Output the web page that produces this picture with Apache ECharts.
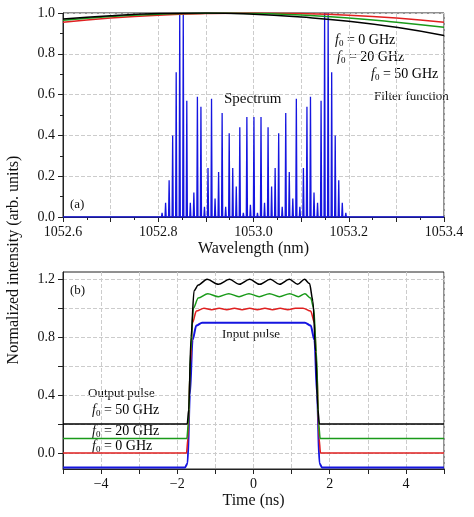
<!DOCTYPE html><html><head><meta charset="utf-8">
<script src="https://cdn.jsdelivr.net/npm/echarts@6/dist/echarts.min.js"></script>
<style>body{margin:0}#c{width:474px;height:517px}</style></head><body><div id="c"></div>
<script>
// Panel (a): spectrum comb line heights (start 1052.808 nm, step 0.00742 nm)
const combStart = 1052.808, combStep = 0.00742;
const combHeights = [0.02,0.07,0.18,0.40,0.71,1.0,1.0,0.57,0.07,0.12,0.59,0.54,0.05,0.24,0.58,0.09,0.22,0.51,0.05,0.41,0.24,0.15,0.44,0.02,0.49,0.06,0.49,0.02,0.49,0.07,0.44,0.15,0.24,0.41,0.05,0.51,0.22,0.09,0.58,0.05,0.24,0.54,0.59,0.12,0.07,0.57,1.0,1.0,0.71,0.40,0.18,0.07,0.02];
const filterX = [1052.6,1052.7,1052.8,1052.9,1053.0,1053.1,1053.2,1053.3,1053.4];
const filter50 = [0.97,0.987,0.997,1.0,0.994,0.98,0.96,0.93,0.89];
const filter20 = [0.965,0.983,0.994,0.999,0.998,0.99,0.976,0.955,0.93];
const filter0  = [0.955,0.975,0.989,0.997,1.0,0.997,0.989,0.975,0.955];
// Panel (b): pulses [time, value]
const inputPulse = [[-5,-0.1],[-1.8,-0.1],[-1.73,-0.07],[-1.67,0.4],[-1.6,0.78],[-1.5,0.88],[-1.35,0.9],[1.35,0.9],[1.5,0.88],[1.6,0.78],[1.67,0.4],[1.73,-0.07],[1.8,-0.1],[5,-0.1]];
const out0 = [[-5,0],[-1.76,0],[-1.72,0.1],[-1.66,0.6],[-1.6,0.9],[-1.5,0.98],[-1.3,1.0],[-1.1,0.99],[-0.9,1.0],[-0.7,0.99],[-0.5,1.0],[-0.3,0.99],[-0.1,1.0],[0.1,0.99],[0.3,1.0],[0.5,0.99],[0.7,1.0],[0.9,0.99],[1.1,1.0],[1.3,1.0],[1.5,0.98],[1.6,0.9],[1.66,0.6],[1.72,0.1],[1.76,0],[5,0]];
const out20 = [[-5,0.1],[-1.75,0.1],[-1.71,0.2],[-1.65,0.7],[-1.58,1.0],[-1.45,1.07],[-1.2,1.1],[-0.92,1.08],[-0.65,1.1],[-0.38,1.08],[-0.12,1.1],[0.15,1.08],[0.42,1.1],[0.68,1.08],[0.95,1.1],[1.18,1.08],[1.35,1.1],[1.5,1.07],[1.58,1.0],[1.65,0.7],[1.71,0.2],[1.75,0.1],[5,0.1]];
const out50 = [[-5,0.2],[-1.74,0.2],[-1.7,0.3],[-1.64,0.8],[-1.56,1.12],[-1.45,1.16],[-1.22,1.2],[-0.92,1.165],[-0.63,1.2],[-0.38,1.165],[-0.1,1.2],[0.16,1.165],[0.44,1.2],[0.68,1.165],[0.94,1.2],[1.16,1.165],[1.34,1.2],[1.47,1.17],[1.56,1.05],[1.63,0.7],[1.69,0.3],[1.73,0.2],[5,0.2]];

const comb = [[1052.6,0]];
combHeights.forEach((h,i)=>{const x=combStart+i*combStep;comb.push([x-0.0012,0],[x,h],[x+0.0012,0]);});
comb.push([1053.4,0]);
const zip = (xs,ys)=>xs.map((x,i)=>[x,ys[i]]);
const F = 'Liberation Serif, DejaVu Serif, serif';
const dash = {show:true,lineStyle:{type:'dashed',color:'#ccc'}};
const ax = {axisLine:{onZero:false,lineStyle:{color:'#222'}},axisTick:{lineStyle:{color:'#222'}},axisLabel:{color:'#111',fontFamily:F,fontSize:14}};
const rich = {i:{fontStyle:'italic',fontFamily:F,fontSize:14,fill:'#111'},s:{fontFamily:F,fontSize:9,padding:[6,0,0,0]},n:{fontFamily:F,fontSize:14}};
const fl = (x,y,t)=>({type:'text',x:x,y:y,style:{rich:rich,text:'{i|f}{s|0}{n| = '+t+'}'}});
const chart = echarts.init(document.getElementById('c'));
chart.setOption({
  animation:false,
  grid:[{left:63,top:13,width:381,height:204,show:true,borderColor:'#222',borderWidth:1},
        {left:63,top:272,width:381,height:197,show:true,borderColor:'#222',borderWidth:1}],
  xAxis:[{gridIndex:0,type:'value',min:1052.6,max:1053.4,interval:0.1,...ax,
          axisLabel:{...ax.axisLabel,formatter:v=>{const k=Math.round((v-1052.6)*10);return k%2===0?v.toFixed(1):'';}},
          minorTick:{show:true,splitNumber:2},splitLine:dash,
          name:'Wavelength (nm)',nameLocation:'middle',nameGap:24,nameTextStyle:{fontFamily:F,fontSize:16,color:'#111'}},
         {gridIndex:1,type:'value',min:-5,max:5,interval:1,...ax,
          axisLabel:{...ax.axisLabel,formatter:v=>v%2===0?(v<0?'\u2212'+(-v):''+v):''},
          splitLine:dash,
          name:'Time (ns)',nameLocation:'middle',nameGap:24,nameTextStyle:{fontFamily:F,fontSize:16,color:'#111'}}],
  yAxis:[{gridIndex:0,type:'value',min:0,max:1.0,interval:0.2,...ax,
          axisLabel:{...ax.axisLabel,formatter:v=>v.toFixed(1)},minorTick:{show:true,splitNumber:2},splitLine:dash},
         {gridIndex:1,type:'value',min:-0.11,max:1.25,...ax,
          axisLabel:{...ax.axisLabel,customValues:[0,0.4,0.8,1.2],formatter:v=>v.toFixed(1)},
          axisTick:{...ax.axisTick,customValues:[0,0.2,0.4,0.6,0.8,1.0,1.2]},splitLine:dash}],
  series:[
    {type:'line',xAxisIndex:0,yAxisIndex:0,data:comb,symbol:'none',lineStyle:{color:'#1515e0',width:1.3},z:2},
    {type:'line',xAxisIndex:0,yAxisIndex:0,data:zip(filterX,filter0),smooth:true,symbol:'none',lineStyle:{color:'#e02020',width:1.5}},
    {type:'line',xAxisIndex:0,yAxisIndex:0,data:zip(filterX,filter20),smooth:true,symbol:'none',lineStyle:{color:'#1a9a1a',width:1.5}},
    {type:'line',xAxisIndex:0,yAxisIndex:0,data:zip(filterX,filter50),smooth:true,symbol:'none',lineStyle:{color:'#000',width:1.5}},
    {type:'line',xAxisIndex:1,yAxisIndex:1,data:inputPulse,smooth:0.3,smoothMonotone:'x',symbol:'none',lineStyle:{color:'#1515e0',width:2}},
    {type:'line',xAxisIndex:1,yAxisIndex:1,data:out0,smooth:0.3,smoothMonotone:'x',symbol:'none',lineStyle:{color:'#e02020',width:1.5}},
    {type:'line',xAxisIndex:1,yAxisIndex:1,data:out20,smooth:0.3,smoothMonotone:'x',symbol:'none',lineStyle:{color:'#1a9a1a',width:1.5}},
    {type:'line',xAxisIndex:1,yAxisIndex:1,data:out50,smooth:0.3,smoothMonotone:'x',symbol:'none',lineStyle:{color:'#000',width:1.5}}
  ],
  graphic:[
    {type:'text',x:14,y:260,rotation:Math.PI/2,style:{text:'Normalized intensity (arb. units)',fontFamily:F,fontSize:16,fill:'#111',align:'center',verticalAlign:'middle'}},
    {type:'text',x:70,y:198,style:{text:'(a)',fontFamily:F,fontSize:13,fill:'#111'}},
    {type:'text',x:70,y:284,style:{text:'(b)',fontFamily:F,fontSize:13,fill:'#111'}},
    {type:'text',x:224,y:92,style:{text:'Spectrum',fontFamily:F,fontSize:15,fill:'#111'}},
    {type:'text',x:374,y:90,style:{text:'Filter function',fontFamily:F,fontSize:13,fill:'#111'}},
    fl(335,33,'0 GHz'), fl(337,50,'20 GHz'), fl(371,67,'50 GHz'),
    {type:'text',x:222,y:328,style:{text:'Input pulse',fontFamily:F,fontSize:13,fill:'#111'}},
    {type:'text',x:88,y:387,style:{text:'Output pulse',fontFamily:F,fontSize:13,fill:'#111'}},
    fl(92,403,'50 GHz'), fl(92,424,'20 GHz'), fl(92,439,'0 GHz')
  ]
});
</script></body></html>
